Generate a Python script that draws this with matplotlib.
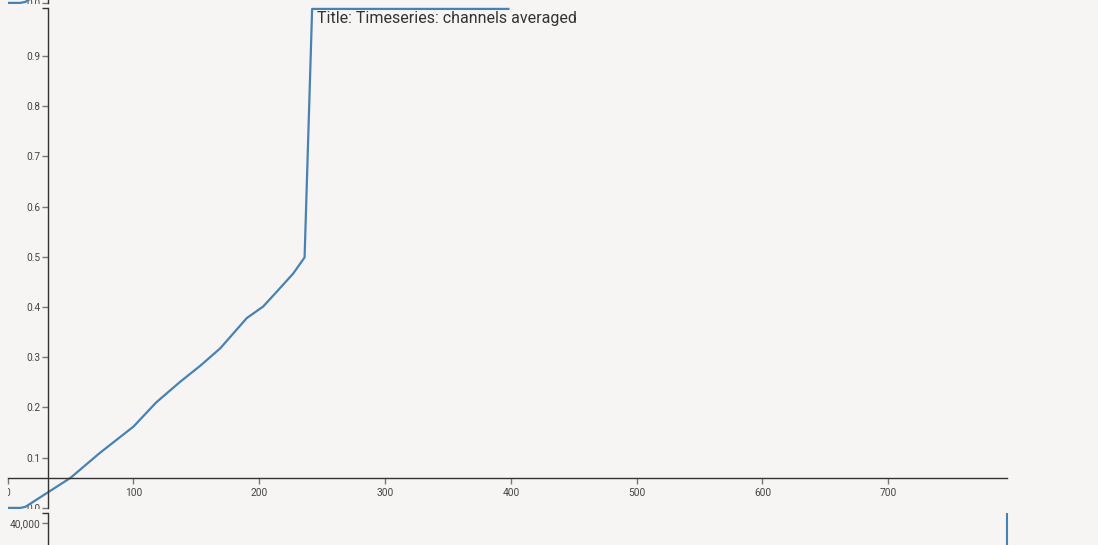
import matplotlib
matplotlib.use("Agg")
import matplotlib.pyplot as plt
from matplotlib.transforms import Bbox, TransformedBbox
from matplotlib.ticker import FuncFormatter

W, H = 1098, 545
BG = "#f6f5f3"
BLUE = "#4682b4"
plt.rcParams['font.family'] = ['Roboto', 'DejaVu Sans']

# channel average per sample
sample = [0, 10, 14, 32, 50, 73, 100, 118, 137, 153, 169, 190, 203, 214, 227, 236, 242, 398]
value = [0, 0, 0.002, 0.031, 0.060, 0.109, 0.162, 0.21, 0.251, 0.283, 0.318, 0.378,
         0.401, 0.431, 0.467, 0.499, 0.994, 0.994]
x_ticks = [0, 100, 200, 300, 400, 500, 600, 700]
y_ticks = [0.0, 0.1, 0.2, 0.3, 0.4, 0.5, 0.6, 0.7, 0.8, 0.9]
X_MAX = 794.6
Y_MAX = 0.9958
title = "Title: Timeseries: channels averaged"

# lower (context) chart, mostly cut off
ctx_x = [794.6, 794.6]
ctx_y = [0, 120000]
ctx_ticks = [40000]


def fy(py):
    return 1 - py / H


def panel_box(fig, top, bottom):
    # clip region of one stacked panel, in pixels from the top-left
    bb = Bbox.from_extents(8 / W, fy(bottom), 1, fy(top))
    return TransformedBbox(bb, fig.transFigure)


def style(ax):
    ax.set_facecolor("none")
    for s in ("top", "right"):
        ax.spines[s].set_visible(False)
    for s in ("left", "bottom"):
        ax.spines[s].set_color("#333333")
        ax.spines[s].set_linewidth(1)
    ax.tick_params(which="both", direction="out", length=4.3, width=1,
                   color="#777777", labelsize=7.3, labelcolor="#444444")
    ax.tick_params(axis="y", pad=1.5)
    ax.tick_params(axis="x", pad=2.5)
    ax.tick_params(which="minor", color="#333333")


def clip_labels(ax, box):
    for lab in ax.get_xticklabels() + ax.get_yticklabels():
        lab.set_clip_on(True)
        lab.set_clip_box(box)


def draw_series(fig, shift, box, full=True):
    top = 8 + shift
    bottom = 507.9 + shift
    ax = fig.add_axes([7.7 / W, fy(bottom), 999.6 / W, (bottom - top) / H])
    style(ax)
    ln, = ax.plot(sample, value, color=BLUE, lw=1.6, solid_joinstyle="round")
    ln.set_clip_path(None)
    ln.set_clip_box(box)
    ax.set_xlim(0, X_MAX)
    ax.set_ylim(0, Y_MAX)
    ax.spines["left"].set_position(("axes", 0.0406))
    ax.spines["bottom"].set_position(("axes", 0.0592))
    ax.set_xticks(x_ticks)
    ax.set_yticks(y_ticks)
    ax.set_yticks([Y_MAX], minor=True)
    ax.yaxis.set_major_formatter(FuncFormatter(lambda v, p: f"{v:.1f}"))
    ax.yaxis.set_minor_formatter(FuncFormatter(lambda v, p: ""))
    if full:
        t = ax.text(0.3094, 0.9785, title, transform=ax.transAxes, fontsize=11.5,
                    color="#333333", ha="left", va="center")
        t.set_clip_on(True)
        t.set_clip_box(box)
    else:
        # only the bottom edge of this panel is on the canvas
        ax.tick_params(axis="x", labelbottom=False)
    clip_labels(ax, box)
    return ax


fig = plt.figure(figsize=(W / 100, H / 100), dpi=100, facecolor=BG)

# the panel above, only its bottom edge shows
draw_series(fig, -505, panel_box(fig, -501, 4), full=False)
draw_series(fig, 0, panel_box(fig, 4, 509))

# context panel below
ax2 = fig.add_axes([7.7 / W, fy(600), (1020 - 7.7) / W, (600 - 513) / H])
style(ax2)
ax2.spines["bottom"].set_visible(False)
ax2.plot(ctx_x, ctx_y, color=BLUE, lw=1.5)
ax2.set_xlim(0, (1020 - 7.7) / 1.258)
ax2.set_ylim(24600, 42000)
ax2.spines["left"].set_position(("axes", 40.6 / (1020 - 7.7)))
ax2.set_xticks([])
ax2.set_yticks(ctx_ticks)
ax2.set_yticks([42000], minor=True)
ax2.yaxis.set_major_formatter(FuncFormatter(lambda v, p: f"{v:,.0f}"))
ax2.yaxis.set_minor_formatter(FuncFormatter(lambda v, p: ""))

fig.savefig("out.png", dpi=100, facecolor=BG)
